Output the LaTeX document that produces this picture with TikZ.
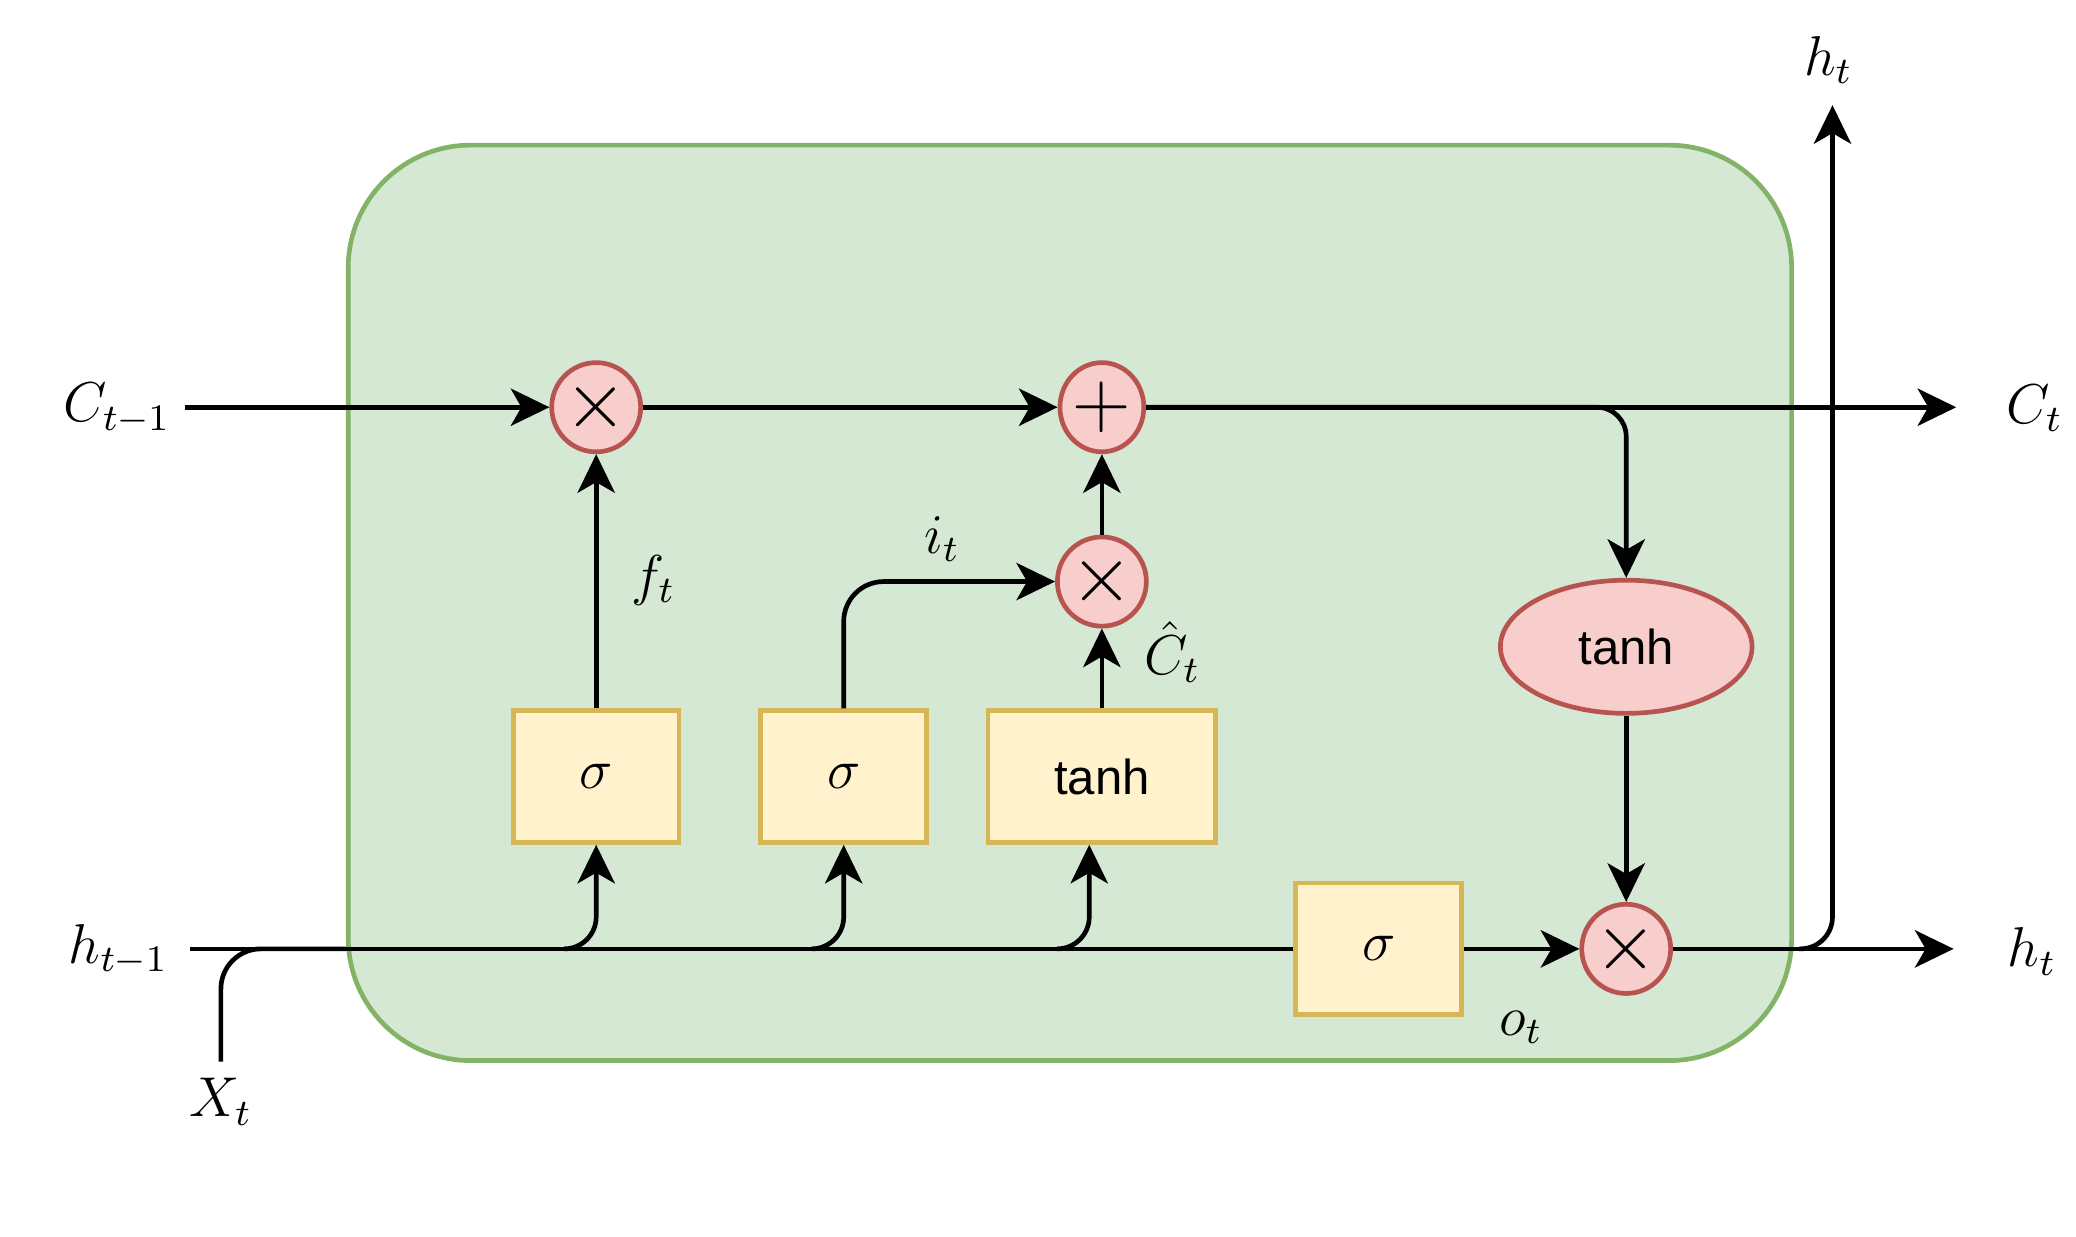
\documentclass[tikz,border=0pt]{standalone}
\usepackage{fontspec}
\newfontfamily\sansf{Liberation Sans}
\usetikzlibrary{arrows.meta,shapes.geometric}
\definecolor{cellfill}{HTML}{D5E8D4}
\definecolor{cellline}{HTML}{82B366}
\definecolor{opfill}{HTML}{F8CECC}
\definecolor{opline}{HTML}{B85450}
\definecolor{gatefill}{HTML}{FFF2CC}
\definecolor{gateline}{HTML}{D6B656}
\begin{document}
\begin{tikzpicture}[x=0.01cm,y=-0.01cm,
 arr/.style={line width=1pt,-{Stealth[length=0.29cm,width=0.28cm,inset=0.08cm]}},
 ln/.style={line width=1pt},
 op/.style={ellipse,draw=opline,fill=opfill,line width=1pt,minimum width=0.63cm,minimum height=0.67cm,inner sep=0pt,font=\fontsize{16.5}{18}\selectfont},
 gate/.style={rectangle,draw=gateline,fill=gatefill,line width=1pt,minimum width=1.245cm,minimum height=0.99cm,inner sep=0pt,font=\fontsize{12.5}{15}\selectfont},
 lbl/.style={inner sep=0pt,font=\fontsize{12}{14}\selectfont}]
\useasboundingbox (0,0) rectangle (1560,929);
\node[draw=cellline,fill=cellfill,line width=1pt,rounded corners=0.92cm,minimum width=10.84cm,minimum height=6.875cm,inner sep=0pt] (cell) at (804,453) {};
% operators
\node[op] (m1) at (448,306) {$\times$};
\node[op] (add) at (828,306) {$+$};
\node[op] (m2) at (828,437) {$\times$};
\node[op] (m3) at (1222,713) {$\times$};
% gates
\node[gate] (g1) at (448,583.5) {$\sigma$};
\node[gate] (g2) at (634,583.5) {$\sigma$};
\node[gate,minimum width=1.71cm,font=\fontsize{10.5}{12}\selectfont] (g3) at (828,583.5) {\sansf tanh};
\node[gate] (g4) at (1036,713) {$\sigma$};
\node[ellipse,draw=opline,fill=opfill,line width=1pt,minimum width=1.89cm,minimum height=1.0cm,inner sep=0pt,font=\fontsize{10.5}{12}\selectfont] (th) at (1222,486) {\sansf tanh};
% labels
\node[lbl] (Cprev) at (88,307) {$C_{t-1}$};
\node[lbl] (hprev) at (89,714) {$h_{t-1}$};
\node[lbl] (Xt) at (166,828) {$X_t$};
\node[lbl] (Ct) at (1529,307) {$C_t$};
\node[lbl] (ht) at (1527,715) {$h_t$};
\node[lbl] (htu) at (1374,45) {$h_t$};
\node[lbl] (ft) at (491,436) {$f_t$};
\node[lbl] (it) at (708,405) {$i_t$};
\node[lbl] (Chat) at (881,490) {$\hat{C}_t$};
\node[lbl] (ot) at (1143,772) {$o_t$};
% coordinates
\coordinate (cend) at (1470,306);
\coordinate (hend) at (1468,713);
\coordinate (htop) at (1377,79);
\coordinate (b1) at (424,713);
\coordinate (b2) at (610,713);
\coordinate (b3) at (794,713);
\coordinate (b4) at (1352,713);
\coordinate (xj) at (260,713);
% connectors
\draw[arr] ([xshift=0.1cm]Cprev.east |- m1) -- (m1.west);
\draw[arr] (m1) -- (add);
\draw[arr] (add) -- (cend);
\draw[arr,rounded corners=0.22cm] (add.east) -| (th.north);
\draw[arr] (th) -- (m3);
\draw[arr] (g1) -- (m1);
\draw[arr,rounded corners=0.3cm] (g2.north) |- (m2.west);
\draw[arr] (g3) -- (m2);
\draw[arr] (m2) -- (add);
\draw[ln] ([xshift=0.16cm]hprev.east |- g4.west) -- (g4.west);
\draw[arr,rounded corners=0.24cm] (b1) -| (g1.south);
\draw[arr,rounded corners=0.24cm] (b2) -| (g2.south);
\draw[arr,rounded corners=0.24cm] (b3) -| ([xshift=-0.095cm]g3.south);
\draw[ln,rounded corners=0.3cm] ([yshift=0.12cm]Xt.north) |- (xj);
\draw[arr] (g4) -- (m3);
\draw[arr] (m3) -- (hend);
\draw[arr,rounded corners=0.24cm] (b4) -| (htop);
\end{tikzpicture}
\end{document}
